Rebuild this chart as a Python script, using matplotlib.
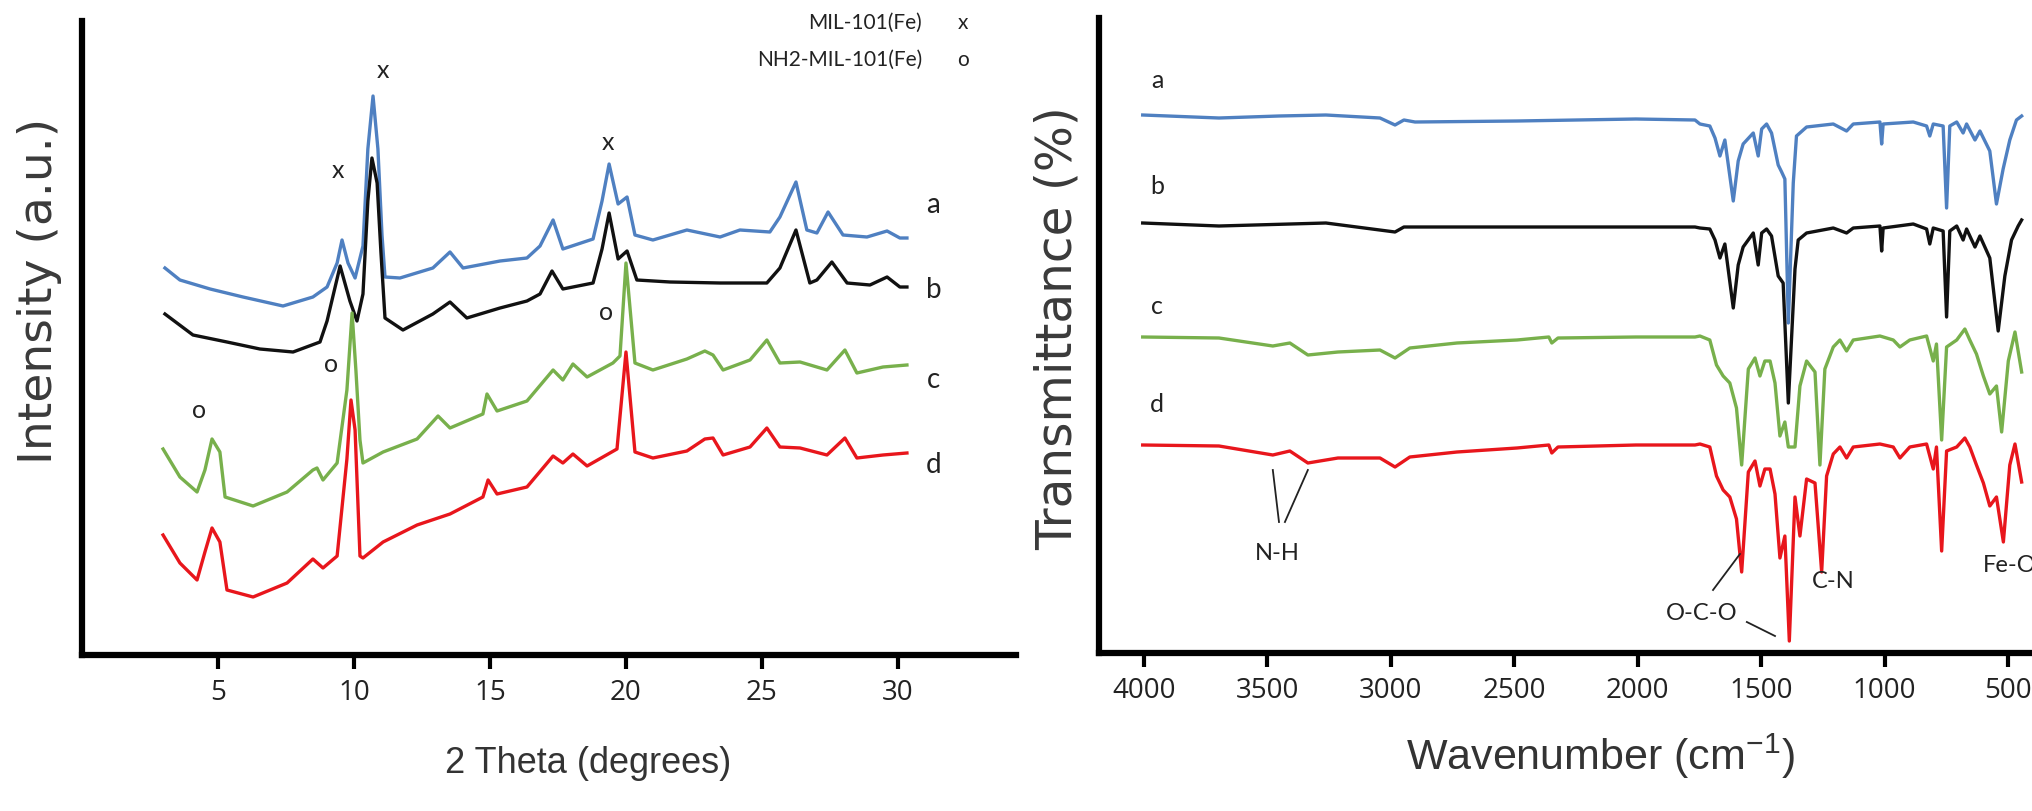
import matplotlib
matplotlib.use('Agg')
import matplotlib.pyplot as plt

# ---- XRD data (2 theta, intensity a.u.) ----
tt_a = [3.05, 3.60, 4.71, 5.92, 7.39, 8.49, 9.01, 9.38, 9.56, 9.78, 10.04, 10.33, 10.51, 10.70, 10.88,
        11.03, 11.14, 11.69, 12.90, 13.53, 14.01, 15.37, 16.36, 16.84, 17.32, 17.68, 18.79, 19.12, 19.38,
        19.71, 20.04, 20.33, 20.99, 22.24, 23.46, 24.19, 25.29, 25.66, 26.25, 26.65, 27.02, 27.43, 27.98,
        28.86, 29.60, 30.07, 30.33]
xrd_a = [387, 375, 366, 358, 349, 358, 368, 392, 415, 392, 377, 409, 506, 559, 506,
         420, 378, 377, 387, 403, 387, 394, 397, 409, 435, 406, 416, 454, 491,
         451, 458, 420, 415, 425, 418, 425, 423, 438, 473, 425, 422, 443, 420,
         418, 424, 417, 417]

tt_b = [3.05, 4.08, 5.33, 6.54, 7.76, 8.75, 9.01, 9.49, 9.85, 10.11, 10.33, 10.51, 10.66, 10.85, 10.99,
        11.14, 11.80, 12.90, 13.53, 14.15, 15.37, 16.36, 16.84, 17.28, 17.68, 18.79, 19.12, 19.38, 19.71,
        20.04, 20.40, 21.62, 23.46, 25.18, 25.66, 26.25, 26.76, 27.02, 27.57, 28.13, 28.97, 29.60, 30.07, 30.33]
xrd_b = [341, 320, 313, 306, 303, 313, 334, 389, 354, 334, 361, 454, 497, 472, 403,
         337, 325, 341, 353, 337, 347, 354, 361, 384, 366, 372, 406, 442, 396,
         404, 375, 373, 372, 372, 387, 425, 372, 375, 393, 372, 370, 378, 368, 368]

tt_c = [2.98, 3.60, 4.23, 4.52, 4.78, 5.07, 5.26, 6.29, 7.54, 8.49, 8.64, 8.86, 9.38, 9.74, 9.93,
        10.07, 10.22, 10.33, 11.07, 12.32, 13.09, 13.53, 14.74, 14.89, 15.26, 16.36, 17.32, 17.68, 18.05,
        18.57, 19.52, 19.78, 20.00, 20.33, 20.99, 22.24, 22.90, 23.20, 23.57, 24.56, 25.18, 25.66, 26.40,
        27.39, 28.05, 28.49, 29.45, 30.33]
xrd_c = [206, 178, 163, 185, 216, 203, 158, 149, 163, 185, 187, 175, 192, 265, 342,
         285, 215, 192, 203, 216, 239, 227, 241, 261, 244, 254, 285, 275, 291,
         278, 292, 299, 392, 292, 285, 296, 304, 300, 285, 295, 315, 292, 293,
         285, 305, 282, 288, 290]

tt_d = [2.98, 3.60, 4.23, 4.52, 4.78, 5.07, 5.33, 6.29, 7.54, 8.49, 8.86, 9.38, 9.74, 9.89, 10.04,
        10.22, 10.33, 11.07, 12.32, 13.53, 14.74, 14.93, 15.26, 16.36, 17.32, 17.68, 18.05, 18.57, 19.67,
        20.00, 20.33, 20.99, 22.24, 22.90, 23.20, 23.57, 24.56, 25.18, 25.66, 26.40, 27.39, 28.05, 28.49,
        29.45, 30.33]
xrd_d = [120, 92, 75, 103, 127, 113, 65, 58, 72, 96, 87, 99, 196, 255, 225,
         99, 97, 113, 130, 141, 158, 175, 161, 168, 199, 192, 201, 189, 206,
         303, 203, 197, 204, 216, 217, 200, 208, 227, 208, 207, 200, 217, 197,
         200, 202]

xrd_ticks = [5, 10, 15, 20, 25, 30]

# ---- FTIR data (wavenumber, transmittance a.u.) ----
wn_a = [4005, 3696, 3453, 3263, 3044, 2983, 2947, 2902, 2489, 2007, 1768, 1748, 1708, 1687, 1667, 1647,
        1613, 1593, 1573, 1532, 1512, 1498, 1478, 1458, 1431, 1417, 1404, 1390, 1370, 1357, 1316, 1208,
        1154, 1127, 1019, 1012, 1006, 884, 830, 817, 803, 763, 749, 736, 708, 682, 668, 634, 614, 574,
        547, 520, 493, 466, 445]
ir_a = [538, 535, 537, 538, 535, 528, 533, 531, 532, 534, 533, 529, 527, 515, 497, 513,
        452, 492, 509, 520, 497, 524, 529, 520, 488, 481, 474, 330, 470, 517, 526, 529,
        522, 529, 531, 509, 529, 531, 527, 517, 529, 527, 445, 527, 531, 520, 529, 513, 522, 502,
        449, 484, 513, 533, 537]

wn_b = [4005, 3696, 3263, 2983, 2947, 2489, 1768, 1748, 1708, 1687, 1667, 1647, 1613, 1593, 1573, 1532,
        1512, 1498, 1478, 1458, 1431, 1411, 1390, 1363, 1350, 1316, 1208, 1154, 1127, 1019, 1012, 1006,
        884, 830, 817, 803, 763, 749, 736, 708, 682, 668, 634, 614, 574, 540, 513, 486, 459, 445]
ir_b = [430, 427, 430, 421, 426, 426, 426, 425, 424, 413, 395, 409, 345, 388, 406, 420,
        388, 420, 424, 417, 377, 370, 250, 384, 413, 420, 425, 420, 425, 427, 402, 425,
        429, 424, 409, 425, 422, 336, 422, 427, 413, 424, 406, 417, 395, 322, 377, 413, 427, 433]

wn_c = [4005, 3696, 3478, 3409, 3336, 3214, 3044, 2983, 2923, 2732, 2489, 2360, 2348, 2323, 2007, 1768,
        1748, 1708, 1681, 1654, 1627, 1600, 1579, 1552, 1525, 1505, 1485, 1464, 1444, 1424, 1404, 1390,
        1363, 1343, 1316, 1282, 1262, 1242, 1208, 1181, 1154, 1127, 1019, 965, 938, 898, 830, 803, 790,
        769, 749, 708, 675, 655, 628, 600, 574, 547, 526, 499, 472, 445]
ir_c = [316, 315, 307, 310, 298, 301, 303, 295, 305, 310, 313, 316, 310, 315, 316, 316,
        317, 313, 288, 277, 270, 245, 188, 284, 295, 277, 292, 292, 270, 217, 231, 206,
        206, 267, 292, 281, 188, 284, 306, 313, 302, 313, 317, 313, 306, 313, 317, 292, 309,
        213, 306, 313, 324, 313, 299, 277, 259, 267, 221, 292, 321, 281]

wn_d = [4005, 3696, 3478, 3409, 3336, 3214, 3044, 2983, 2923, 2732, 2489, 2360, 2348, 2323, 2007, 1768,
        1748, 1708, 1681, 1654, 1627, 1600, 1579, 1552, 1525, 1505, 1485, 1464, 1444, 1424, 1404, 1386,
        1363, 1343, 1316, 1282, 1255, 1235, 1208, 1181, 1154, 1127, 1019, 965, 938, 898, 830, 803, 790,
        769, 749, 708, 675, 655, 628, 600, 574, 547, 519, 493, 472, 445]
ir_d = [208, 207, 198, 202, 190, 195, 195, 186, 196, 201, 205, 208, 200, 206, 208, 208,
        209, 206, 177, 163, 156, 134, 81, 181, 192, 167, 184, 184, 159, 95, 117, 12,
        156, 117, 174, 170, 81, 177, 199, 206, 195, 206, 209, 206, 195, 206, 209, 184, 206,
        102, 202, 206, 215, 206, 188, 170, 147, 156, 111, 188, 209, 171]

ir_ticks = [4000, 3500, 3000, 2500, 2000, 1500, 1000, 500]

c_blue = '#4f80c1'
c_black = '#111111'
c_green = '#78b04c'
c_red = '#e8161c'

plt.rcParams['font.family'] = ['Lato', 'DejaVu Sans']
plt.rcParams['mathtext.fontset'] = 'custom'
plt.rcParams['mathtext.rm'] = 'Liberation Sans'

W, H = 2033, 811
fig = plt.figure(figsize=(W / 100, H / 100), dpi=100)

ax1 = fig.add_axes([82 / W, 1 - 655 / H, (1016 - 82) / W, (655 - 21) / H])
ax2 = fig.add_axes([1099 / W, 1 - 653 / H, (W - 1099) / W, (653 - 18) / H])

for ax in (ax1, ax2):
    ax.spines['top'].set_visible(False)
    ax.spines['right'].set_visible(False)
    ax.spines['left'].set_linewidth(4.5)
    ax.spines['bottom'].set_linewidth(4.5)
    ax.set_yticks([])
    ax.tick_params(axis='x', direction='out', length=10, width=3, pad=7,
                   labelsize=20, colors='black', labelcolor='#222222')

lw = 2.4
ax1.plot(tt_a, xrd_a, color=c_blue, lw=lw)
ax1.plot(tt_b, xrd_b, color=c_black, lw=lw)
ax1.plot(tt_c, xrd_c, color=c_green, lw=lw)
ax1.plot(tt_d, xrd_d, color=c_red, lw=lw)
ax1.set_xlim(0, 34.34)
ax1.set_ylim(0, 634)
ax1.set_xticks(xrd_ticks)
ax1.set_xticklabels([str(t) for t in xrd_ticks], family='Open Sans')

tkw = dict(fontsize=18, ha='center', va='center', color='#222222')
for x, y in [(11.07, 585), (9.41, 485), (19.34, 513)]:
    ax1.text(x, y, 'x', **tkw)
for x, y in [(4.30, 244), (9.15, 291), (19.26, 342)]:
    ax1.text(x, y, 'o', **tkw)
for lab, y in zip(['a', 'b', 'c', 'd'], [450, 365, 275, 190]):
    ax1.text(31.3, y, lab, fontsize=20, ha='center', va='center', color='#222222')

fig.text(922 / W, 1 - 23 / H, 'MIL-101(Fe)', fontsize=15, ha='right', va='center', color='#222222')
fig.text(963 / W, 1 - 23 / H, 'x', fontsize=15, ha='center', va='center', color='#222222')
fig.text(922 / W, 1 - 60 / H, 'NH2-MIL-101(Fe)', fontsize=15, ha='right', va='center', color='#222222')
fig.text(963 / W, 1 - 60 / H, 'o', fontsize=15, ha='center', va='center', color='#222222')

ax2.plot(wn_a, ir_a, color=c_blue, lw=lw)
ax2.plot(wn_b, ir_b, color=c_black, lw=lw)
ax2.plot(wn_c, ir_c, color=c_green, lw=lw)
ax2.plot(wn_d, ir_d, color=c_red, lw=lw)
ax2.set_xlim(4182, 399)
ax2.set_ylim(0, 635)
ax2.set_xticks(ir_ticks)
ax2.set_xticklabels([str(t) for t in ir_ticks], family='Open Sans')

for lab, y in zip(['a', 'b', 'c', 'd'], [573, 467, 346, 248]):
    ax2.text(3947, y, lab, fontsize=18, ha='center', va='center', color='#222222')

akw = dict(fontsize=17, va='center', color='#222222')
ax2.text(3461, 100, 'N-H', ha='center', **akw)
ax2.plot([3478, 3453], [183, 131], color='#222222', lw=1.3)
ax2.plot([3336, 3429], [183, 131], color='#222222', lw=1.3)
ax2.text(1740, 40, 'O-C-O', ha='center', **akw)
ax2.plot([1695, 1586], [63, 99], color='#222222', lw=1.3)
ax2.plot([1558, 1444], [31, 17], color='#222222', lw=1.3)
ax2.text(1209, 71, 'C-N', ha='center', **akw)
ax2.text(602, 88, 'Fe-O', ha='left', **akw)

# axis titles
fig.text(40 / W, 1 - 291 / H, 'Intensity (a.u.)', rotation=90, fontsize=34,
         family='DejaVu Sans', ha='center', va='center', color='#3a3a3a')
fig.text(1058 / W, 1 - 328 / H, 'Transmittance (%)', rotation=90, fontsize=35,
         family='DejaVu Sans', ha='center', va='center', color='#3a3a3a')
fig.text(588 / W, 1 - 773 / H, '2 Theta (degrees)', fontsize=26,
         family=['Liberation Sans', 'DejaVu Sans'], ha='center', va='baseline', color='#333333')
fig.text(1600 / W, 1 - 770 / H, r'Wavenumber (cm$^{-1}$)', fontsize=31,
         family=['Liberation Sans', 'DejaVu Sans'], ha='center', va='baseline', color='#333333')

fig.savefig('out.png', dpi=100)
